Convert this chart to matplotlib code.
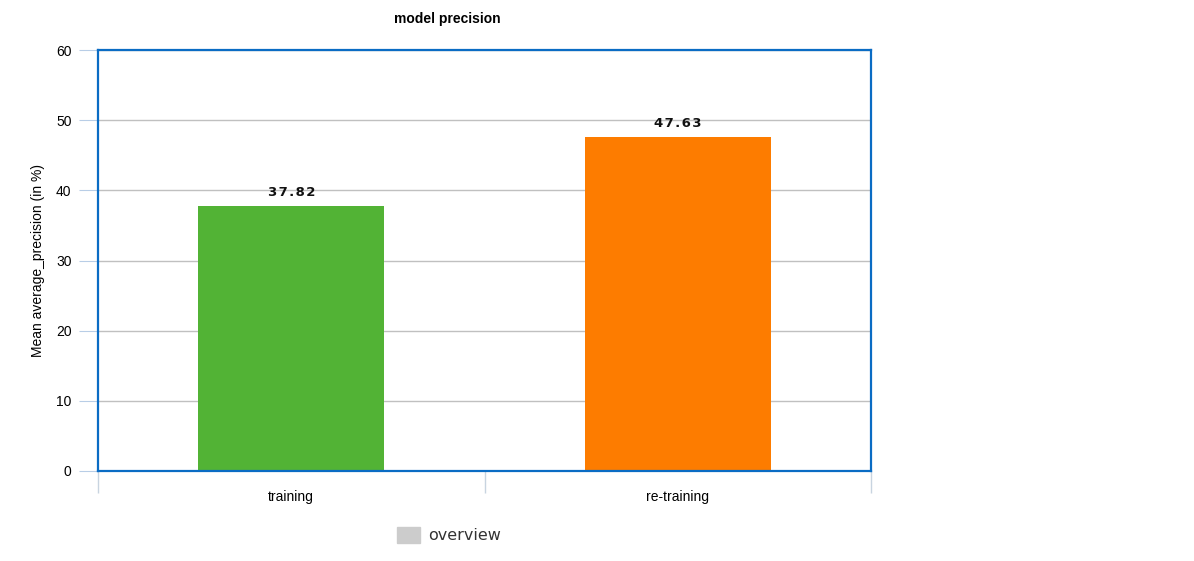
import matplotlib.pyplot as plt
from matplotlib.patches import Rectangle

# data
categories = ['training', 're-training']
values = [37.82, 47.63]
bar_colors = ['#52b335', '#fd7c00']

plt.rcParams['font.family'] = ['Liberation Sans', 'DejaVu Sans']

fig = plt.figure(figsize=(11.94, 5.61), dpi=100)
ax = fig.add_axes([98/1194, 1-471/561, 773/1194, 421/561])

x = list(range(len(categories)))
bars = ax.bar(x, values, width=0.48, color=bar_colors, zorder=2)
for b, v in zip(bars, values):
    # letter-spaced value label like the original
    lab = '\u200a'.join(f'{v:.2f}')
    ax.text(b.get_x() + b.get_width()/2, b.get_height() + 1.0, lab,
            ha='center', va='bottom', fontsize=9.5, fontweight='bold',
            color='#111111', family=['DejaVu Sans'])

ax.set_xlim(-0.5, 1.5)
ax.set_ylim(0, 60)
ax.set_yticks(range(0, 61, 10))
ax.yaxis.grid(True, color='#c0c0c0', linewidth=1, zorder=0)
ax.set_axisbelow(True)
for s in ax.spines.values():
    s.set_color('#0a6cc4')
    s.set_linewidth(1.6)
ax.tick_params(axis='y', length=14, color='#b8cde6', labelsize=10, pad=5)
ax.set_xticks(x)
ax.set_xticklabels(categories, fontsize=10)
ax.tick_params(axis='x', length=0, pad=14)
# minor ticks at category boundaries
ax.set_xticks([-0.5, 0.5, 1.5], minor=True)
ax.tick_params(axis='x', which='minor', length=16, color='#c8d4e0', width=1)

ax.set_ylabel('Mean average_precision (in %)', fontsize=10, labelpad=8)
fig.text(447/1194, 1-19/561, 'model precision', ha='center', va='center',
         fontsize=10, fontweight='bold')

# legend
fig.patches.append(Rectangle((397/1194, 1-543/561), 23/1194, 16/561,
                             transform=fig.transFigure, color='#cccccc'))
fig.text(428/1194, 1-535/561, 'overview', ha='left', va='center',
         fontsize=11.5, color='#333333', family=['DejaVu Sans'])

fig.savefig('out.png', dpi=100)
